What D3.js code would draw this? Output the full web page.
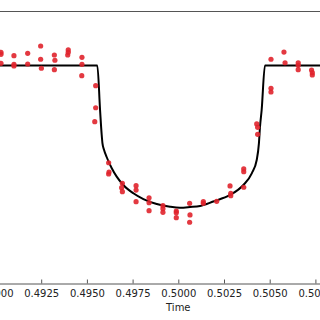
<!DOCTYPE html>
<html>
<head>
<meta charset="utf-8">
<script src="https://cdn.jsdelivr.net/npm/d3@7"></script>
<style>
  body { margin: 0; background: #fff; }
  svg { display: block; font-family: "DejaVu Sans", sans-serif; }
</style>
</head>
<body>
<div id="chart"></div>
<script>
// observed points (time, relative flux)
var obsTime = [
  0.49030, 0.49030, 0.49030, 0.49101, 0.49101, 0.49101, 0.49176, 0.49176,
  0.49247, 0.49247, 0.49251, 0.49322, 0.49325, 0.49322, 0.49398, 0.49398,
  0.49395, 0.49473, 0.49473, 0.49472, 0.49548, 0.49548, 0.49543, 0.49619,
  0.49621, 0.49619, 0.49694, 0.49690, 0.49694, 0.49769, 0.49769, 0.49769,
  0.49840, 0.49840, 0.49840, 0.49916, 0.49916, 0.49916, 0.49989, 0.49989,
  0.49989, 0.50062, 0.50064, 0.50062, 0.50137, 0.50137, 0.50210, 0.50283,
  0.50287, 0.50287, 0.50358, 0.50358, 0.50358, 0.50429, 0.50434, 0.50434,
  0.50507, 0.50578, 0.50584, 0.50656, 0.50656, 0.50656, 0.50729, 0.50733,
  0.50733, 0.50507, 0.50507
];
var obsFlux = [
  1.00132, 1.00112, 1.00021, 1.00098, 1.00011, 0.99994, 1.00122, 1.00014,
  1.00196, 1.00062, 0.99971, 1.00105, 1.00052, 0.99957, 1.00156, 1.00132,
  1.00105, 1.00082, 1.00011, 0.99896, 0.99795, 0.99572, 0.99431, 0.99016,
  0.98922, 0.98902, 0.98808, 0.98764, 0.98723, 0.98784, 0.98740, 0.98622,
  0.98662, 0.98612, 0.98531, 0.98582, 0.98551, 0.98515, 0.98528, 0.98511,
  0.98460, 0.98606, 0.98488, 0.98414, 0.98622, 0.98606, 0.98626, 0.98781,
  0.98707, 0.98683, 0.98953, 0.98925, 0.98768, 0.99408, 0.99374, 0.99303,
  1.00062, 1.00135, 1.00027, 1.00027, 1.00001, 0.99957, 0.99953, 0.99926,
  0.99903, 0.99768, 0.99731
];

// fitted model curve
var modelTime = [
  0.4895, 0.49557, 0.49572, 0.49581, 0.49585, 0.49594, 0.49608, 0.49636,
  0.49663, 0.49699, 0.49754, 0.49809, 0.49882, 0.49955, 0.50009, 0.50064,
  0.50119, 0.50191, 0.50283, 0.50356, 0.50402, 0.50429, 0.50441, 0.50447,
  0.50456, 0.50474, 0.5100
];
var modelFlux = [
  1.0000, 1.0000, 0.99549, 0.99296, 0.99215, 0.99145, 0.99074, 0.98960,
  0.98875, 0.98791, 0.98707, 0.98649, 0.98599, 0.98571, 0.98561, 0.98568,
  0.98579, 0.98624, 0.98690, 0.98791, 0.98909, 0.99044, 0.99212, 0.99380,
  0.99549, 1.0000, 1.0000
];

var xTicks = [0.4900, 0.4925, 0.4950, 0.4975, 0.5000, 0.5025, 0.5050, 0.5075];

var width = 320, height = 320;

var svg = d3.select("#chart").append("svg")
  .attr("width", width)
  .attr("height", height);

// plot box is wider than the picture, its left edge sits just off screen
var x = d3.scaleLinear().domain([0.49, 0.51]).range([-4.5, 361.1]);
var y = d3.scaleLinear().domain([0.978, 1.0055]).range([283, 11]);

// top spine
svg.append("line")
  .attr("x1", 0).attr("x2", width)
  .attr("y1", 11.5).attr("y2", 11.5)
  .attr("stroke", "#555").attr("stroke-width", 1);

// model
var line = d3.line()
  .x(function(d) { return x(d[0]); })
  .y(function(d) { return y(d[1]); })
  .curve(d3.curveMonotoneX);

svg.append("path")
  .datum(d3.zip(modelTime, modelFlux))
  .attr("fill", "none")
  .attr("stroke", "#000")
  .attr("stroke-width", 2)
  .attr("d", line);

// points
svg.append("g").selectAll("circle")
  .data(d3.zip(obsTime, obsFlux))
  .join("circle")
  .attr("cx", function(d) { return x(d[0]); })
  .attr("cy", function(d) { return y(d[1]); })
  .attr("r", 2.6)
  .attr("fill", "#e0242c")
  .attr("fill-opacity", 0.9);

// bottom axis, ticks pointing inward
var xAxis = d3.axisBottom(x)
  .tickValues(xTicks)
  .tickFormat(d3.format(".4f"))
  .tickSizeInner(-4)
  .tickSizeOuter(0)
  .tickPadding(6);

var gx = svg.append("g")
  .attr("transform", "translate(0,283.5)")
  .call(xAxis);
gx.select(".domain").attr("stroke", "#555");
gx.selectAll(".tick line").attr("stroke", "#555");
gx.selectAll(".tick text")
  .attr("font-size", 10)
  .attr("font-family", "DejaVu Sans, sans-serif")
  .attr("fill", "#222");

svg.append("text")
  .attr("x", x(0.5))
  .attr("y", 311)
  .attr("text-anchor", "middle")
  .attr("font-size", 10)
  .attr("fill", "#222")
  .text("Time");
</script>
</body>
</html>
